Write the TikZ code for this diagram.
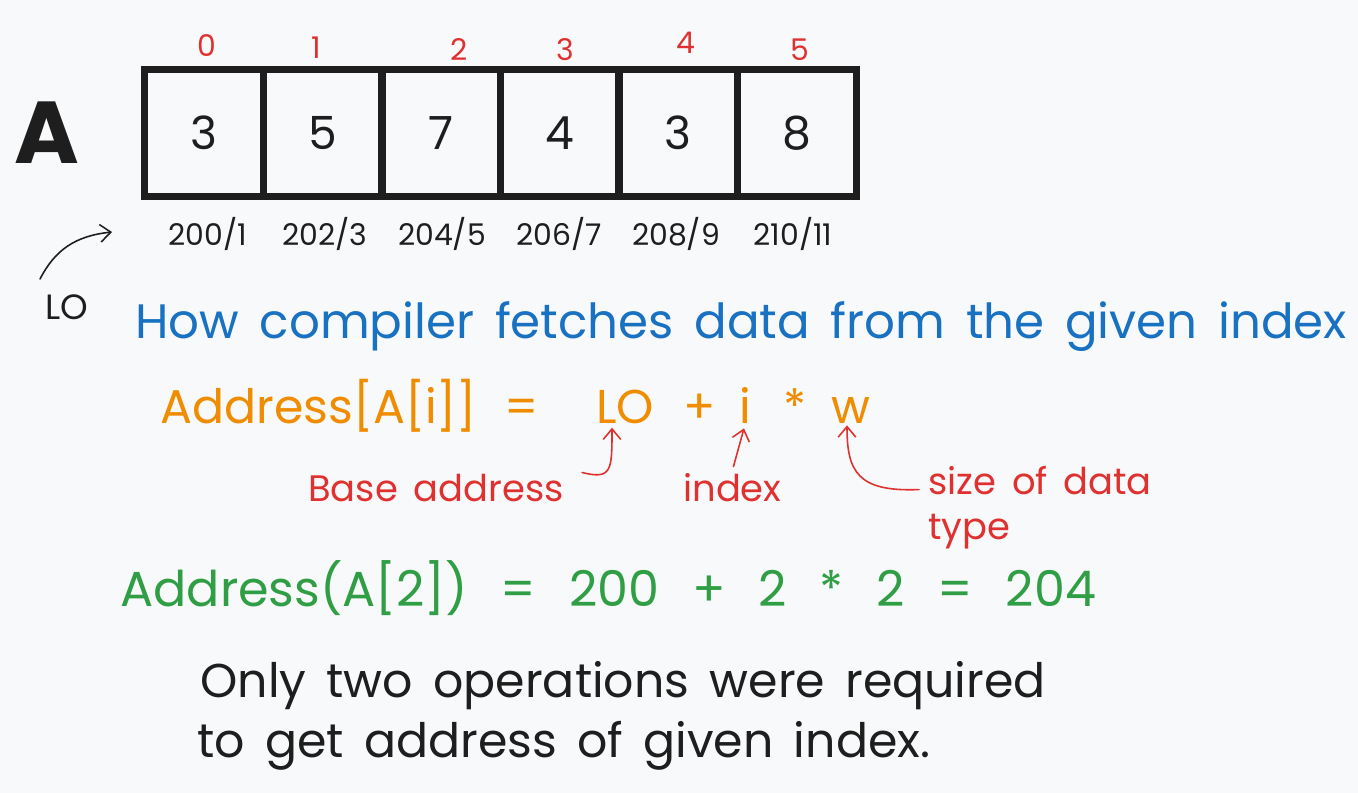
\documentclass[tikz,border=0pt]{standalone}
\usepackage{fontspec}
\setmainfont{Poppins}[WordSpace=1.6]
\newfontfamily\spacedfont{Poppins}[WordSpace=2.5]
\usetikzlibrary{positioning,arrows.meta}
\definecolor{paper}{HTML}{F8F9FA}
\definecolor{ink}{HTML}{1E1E1E}
\definecolor{redpen}{HTML}{E03131}
\definecolor{bluepen}{HTML}{1971C2}
\definecolor{orangepen}{HTML}{F08C00}
\definecolor{greenpen}{HTML}{2F9E44}
\newcommand{\fs}[1]{\fontsize{#1}{1.2\dimexpr#1\relax}\selectfont}
\tikzset{
  cell/.style={draw=ink, line width=4pt, minimum width=2.38cm, minimum height=2.54cm,
    inner sep=0pt, outer sep=0pt, font=\fs{26pt}, text=ink},
  idxlabel/.style={text=redpen, font=\fs{17pt}, anchor=base},
  addrlabel/.style={text=ink, font=\fs{17pt}, anchor=base},
  formula/.style={text=orangepen, font=\fs{27pt}, anchor=base, inner sep=0pt},
  note/.style={text=redpen, font=\fs{21pt}, anchor=base west, inner sep=0pt},
  pen/.style={line width=0.9pt, -{Straight Barb[length=6pt,width=10pt]}, line cap=round}
}
\begin{document}
\begin{tikzpicture}[x=0.02cm, y=-0.02cm]
  \fill[paper] (0,0) rectangle (1358,793);

  \node[font=\fs{50pt}\bfseries, text=ink] (arrname) at (47,133) {A};

  % the array, its indices and addresses
  \foreach \v/\lo/\hi/\dx/\dy [count=\i from 0] in
      {3/200/1/3/-2, 5/202/3/-6/0, 7/204/5/18/2, 4/206/7/5/2, 3/208/9/7/-5, 8/210/11/3/2} {
    \node[cell] (c\i) at ({204+118.6*\i},133) {\v};
    \node[idxlabel] (i\i) at ({204+118.6*\i+\dx},{59+\dy}) {\i};
    \node[addrlabel] (a\i) at ({208+117*\i},246) {\lo/\hi};
  }

  \node[text=ink, font=\fs{20pt}, anchor=base] (lo) at (67,320) {LO};
  \coordinate (lotip) at (112,232);
  \draw[pen, ink] ([shift={(-27,-10)}]lo.north) .. controls (55,250) and (75,236) .. (lotip);

  \node[text=bluepen, font=\fs{27.5pt}, anchor=base west, inner sep=0pt] (title) at (135,339)
    {How compiler fetches data from the given index};

  % formula
  \node[formula, anchor=base west] (faddr) at (160,423) {Address[A[i]]};
  \node[formula] (feq) at (522,423) {=};
  \node[formula] (fL) at (625,423) {LO};
  \node[formula] (fplus) at (700,423) {+};
  \node[formula] (fi) at (745,423) {i};
  \node[formula] (ftimes) at (795,423) {*};
  \node[formula] (fw) at (851,423) {w};

  \node[note] (nbase) at (308,501) {Base address};
  \node[note] (nindex) at (683,501) {index};
  \node[note, align=left] (nsize) at (928,539) {size of data\\type};

  \draw[pen, redpen] ([shift={(18,-15)}]nbase.east) .. controls (612,480) and (612,470) .. ([shift={(-13,4)}]fL.south);
  \draw[pen, redpen] ([shift={(1,-6)}]nindex.north) -- ([shift={(-1,5)}]fi.south);
  \draw[pen, redpen] ([shift={(-9,-18)}]nsize.west) .. controls (858,492) and (847,472) .. ([shift={(-4,2)}]fw.south);

  \node[text=greenpen, font=\fs{28pt}\spacedfont, anchor=base west, inner sep=0pt] (fex) at (120,606)
    {Address(A[2]) = 200 + 2 * 2 = 204};

  \node[text=ink, font=\fs{27pt}, anchor=base west, inner sep=0pt] (remark) at (200,697)
    {Only two operations were required};
  \node[text=ink, font=\fs{27pt}, anchor=base west, inner sep=0pt] (remark2) at (197,757)
    {to get address of given index.};
\end{tikzpicture}
\end{document}
